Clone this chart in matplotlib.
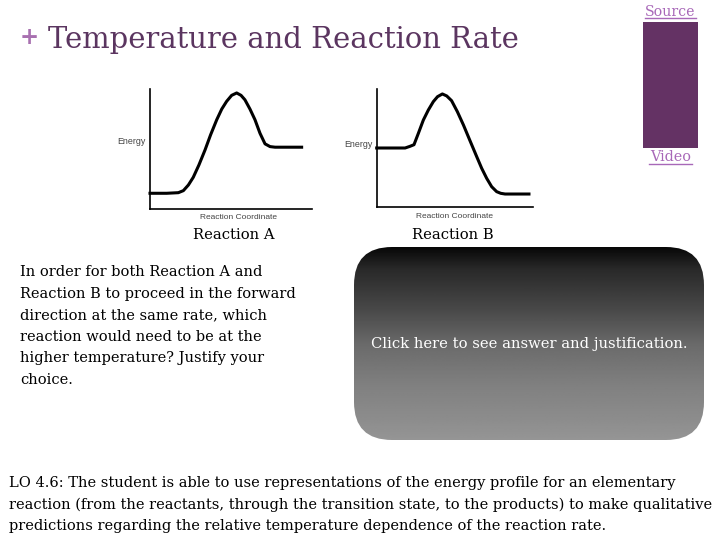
import numpy as np
import matplotlib.pyplot as plt
from matplotlib.patches import FancyBboxPatch, Rectangle

# reaction profiles (axis = 0-100 both ways)
coord_a = [0, 10.3, 17.5, 20.6, 23.7, 26.7, 30.2, 34, 37.4, 41.2, 44.3, 47.3, 50.4, 53.5, 56.2, 58.6,
           61.7, 64.8, 67.9, 71, 74.1, 77.2, 93.6]
energy_a = [13.1, 13.1, 13.6, 15.3, 20, 26.4, 36.7, 49.3, 61.8, 74.4, 83.3, 89.7, 94.7, 96.7, 94.7, 91,
            83.3, 74.4, 63.1, 54.3, 52, 51.5, 51.5]
coord_b = [0, 18.2, 21.3, 23.9, 26.7, 29.9, 33.1, 36.3, 39, 42.1, 44.9, 48, 51.7, 55.6, 59.8, 64.1,
           67.3, 70.5, 73.7, 76.9, 79.5, 82.3, 97.6]
energy_b = [50, 50, 51.4, 52.8, 62.4, 73.7, 82.2, 89.3, 93.5, 95.8, 94.1, 90.1, 80.8, 69.5, 56.2, 42.7,
            32.8, 24.3, 17.2, 13, 11.6, 11, 11]

title = "Temperature and Reaction Rate"
question = [
    "In order for both Reaction A and",
    "Reaction B to proceed in the forward",
    "direction at the same rate, which",
    "reaction would need to be at the",
    "higher temperature? Justify your",
    "choice.",
]
lo_lines = [
    "LO 4.6: The student is able to use representations of the energy profile for an elementary",
    "reaction (from the reactants, through the transition state, to the products) to make qualitative",
    "predictions regarding the relative temperature dependence of the reaction rate.",
]
answer = "Click here to see answer and justification."

W, H = 720, 540
SERIF = "DejaVu Serif"
PURPLE = "#643264"
LINK = "#a868b8"

fig = plt.figure(figsize=(W / 100, H / 100), dpi=100, facecolor="white")

# page layer, works in pixels
page = fig.add_axes([0, 0, 1, 1])
page.set_xlim(0, W)
page.set_ylim(H, 0)
page.axis("off")

page.text(29, 38, "+", fontsize=16.5, color="#a870b0", family="DejaVu Sans", weight="bold", ha="center", va="center")
page.text(48, 40, title, fontsize=20.9, color="#5b3560", family=SERIF, va="center")

# purple side button with its links
page.add_patch(Rectangle((643, 22), 55, 126, facecolor=PURPLE, edgecolor="none"))
page.text(670, 12, "Source", fontsize=10.2, color=LINK, family=SERIF, ha="center", va="center")
page.plot([645, 696], [18, 18], color=LINK, lw=1)
page.text(671, 157, "Video", fontsize=10.4, color=LINK, family=SERIF, ha="center", va="center")
page.plot([649, 692], [164, 164], color=LINK, lw=1)

page.text(234, 235, "Reaction A", fontsize=10.6, color="black", family=SERIF, ha="center", va="center")
page.text(453, 235, "Reaction B", fontsize=10.6, color="black", family=SERIF, ha="center", va="center")

for i, line in enumerate(question):
    page.text(20, 272 + i * 21.6, line, fontsize=10.5, color="black", family=SERIF, va="center")

for i, line in enumerate(lo_lines):
    page.text(9, 483 + i * 21.5, line, fontsize=10.55, color="black", family=SERIF, va="center")

# answer box, grey gradient clipped to a rounded rectangle
# gradient is not linear in the original, lighter through the lower half
grad = np.interp(np.linspace(0, 1, 256),
                 [0, 0.11, 0.33, 0.51, 0.71, 0.89, 1],
                 [0.03, 0.16, 0.29, 0.42, 0.50, 0.55, 0.585]).reshape(-1, 1)
img = page.imshow(grad, cmap="gray", vmin=0, vmax=1, extent=(354, 704, 440, 247), aspect="auto", zorder=2)
box = FancyBboxPatch((354, 247), 350, 193, boxstyle="round,pad=0,rounding_size=38",
                     facecolor="none", edgecolor="none", transform=page.transData)
page.add_patch(box)
img.set_clip_path(box)
page.set_xlim(0, W)
page.set_ylim(H, 0)
page.text(529.5, 344, answer, fontsize=10.6, color="white", family=SERIF, ha="center", va="center", zorder=3)


def profile_axes(left, right, top, bottom, coord, energy, ylabel_x, ylabel_y, xlabel_x, xlabel_y):
    ax = fig.add_axes([left / W, 1 - bottom / H, (right - left) / W, (bottom - top) / H])
    ax.patch.set_alpha(0)
    ax.plot(coord, energy, color="black", lw=2.2, solid_joinstyle="round", clip_on=False)
    ax.set_xlim(0, 100)
    ax.set_ylim(0, 100)
    ax.set_xticks([])
    ax.set_yticks([])
    for side in ["top", "right"]:
        ax.spines[side].set_visible(False)
    for side in ["left", "bottom"]:
        ax.spines[side].set_linewidth(1.2)
    ax.set_xlabel("Reaction Coordinate", fontsize=6, color="#444444", family="Liberation Sans")
    ax.xaxis.set_label_coords((xlabel_x - left) / (right - left), (bottom - xlabel_y) / (bottom - top))
    ax.xaxis.label.set_va("center")
    ax.set_ylabel("Energy", fontsize=6.4, color="#444444", family="Liberation Sans", rotation=0)
    ax.yaxis.set_label_coords((ylabel_x - left) / (right - left), (bottom - ylabel_y) / (bottom - top))
    ax.yaxis.label.set_va("center")
    ax.yaxis.label.set_ha("center")
    return ax


profile_axes(150, 312, 89, 209, coord_a, energy_a, 131.5, 141, 239, 217.5)
profile_axes(376.7, 532.7, 89, 207, coord_b, energy_b, 358.5, 145, 455, 216.5)

fig.savefig("out.png", dpi=100)
